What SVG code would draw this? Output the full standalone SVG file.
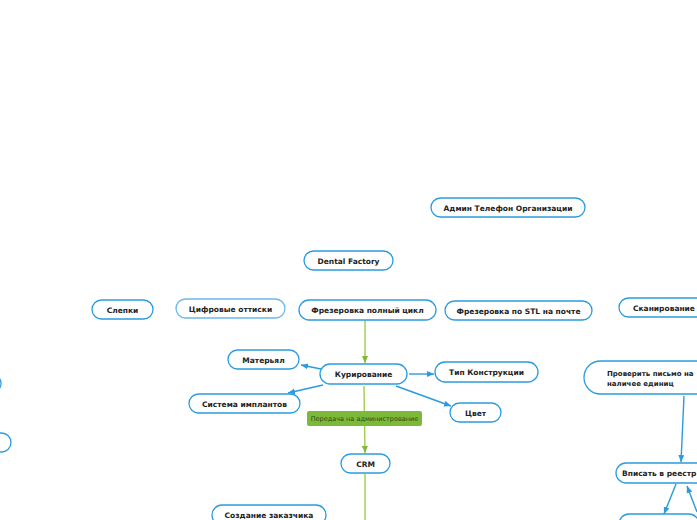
<svg xmlns="http://www.w3.org/2000/svg" width="697" height="520" viewBox="0 0 697 520">
<style>
.n{fill:#fff;stroke:#2a9be0;stroke-width:1.3}
.t{font-family:"DejaVu Sans",sans-serif;font-size:7.5px;font-weight:bold;fill:#222;text-anchor:middle}
.b{stroke:#2a9be0;stroke-width:1.4;fill:none;marker-end:url(#ab)}
.g{stroke:#9ad04e;stroke-width:1.4;fill:none;marker-end:url(#ag)}
</style>
<defs>
<marker id="ab" markerWidth="8" markerHeight="8" refX="7" refY="4" orient="auto" markerUnits="userSpaceOnUse"><path d="M0,1 L7,4 L0,7z" fill="#2a9be0"/></marker>
<marker id="ag" markerWidth="8" markerHeight="8" refX="7" refY="4" orient="auto" markerUnits="userSpaceOnUse"><path d="M0,1 L7,4 L0,7z" fill="#7cb83a"/></marker>
</defs>
<rect width="697" height="520" fill="#fff"/>
<g id="connectors">
<path class="g" d="M365,320 L365,363"/>
<path class="g" d="M364,386 L365,453"/>
<path class="g" d="M365,474 L365,520" style="marker-end:none"/>
<path class="b" d="M321,369 L301,365"/>
<path class="b" d="M323,385 L288,393"/>
<path class="b" d="M409,374 L434,374"/>
<path class="b" d="M396,386 L451,406"/>
<path class="b" d="M684,396 L681,462"/>
<path class="b" d="M676,484 L664,514"/>
<path class="b" d="M697,512 L687,486"/>
</g>
<g id="admin"><rect class="n" x="431" y="198" width="154" height="19" rx="9.5"/><text class="t" x="508" y="210.5">Админ Телефон Организации</text></g>
<g id="df"><rect class="n" x="304" y="251" width="89" height="19" rx="9.5"/><text class="t" x="348.5" y="263.5">Dental Factory</text></g>
<g id="slepki"><rect class="n" x="92" y="300" width="61" height="19" rx="9.5"/><text class="t" x="122.5" y="312.5">Слепки</text></g>
<g id="cifr"><rect class="n" x="176" y="299" width="109" height="19" rx="9.5" style="stroke:#6cb8ea"/><text class="t" x="230.5" y="311.5">Цифровые оттиски</text></g>
<g id="frez"><rect class="n" x="299" y="300" width="137" height="20" rx="10"/><text class="t" x="367.5" y="313">Фрезеровка полный цикл</text></g>
<g id="stl"><rect class="n" x="445" y="301" width="147" height="19" rx="9.5"/><text class="t" x="518.5" y="313.5">Фрезеровка по STL на почте</text></g>
<g id="scan"><rect class="n" x="619" y="298" width="100" height="19" rx="9.5"/><text class="t" x="664" y="310.5">Сканирование</text></g>
<g id="mat"><rect class="n" x="228" y="350" width="71" height="19" rx="9.5"/><text class="t" x="263.5" y="362.5">Матерьял</text></g>
<g id="kur"><rect class="n" x="320" y="364" width="87" height="20" rx="10"/><text class="t" x="363.5" y="377">Курирование</text></g>
<g id="tip"><rect class="n" x="435" y="362" width="103" height="20" rx="10"/><text class="t" x="486.5" y="375">Тип Конструкции</text></g>
<g id="sys"><rect class="n" x="189" y="394" width="111" height="19" rx="9.5"/><text class="t" x="244.5" y="406.5">Система имплантов</text></g>
<g id="cvet"><rect class="n" x="450" y="403" width="51" height="19" rx="9.5"/><text class="t" x="475.5" y="415.5">Цвет</text></g>
<g id="lbl"><rect x="307" y="411" width="115" height="15" rx="2" fill="#7cb83a"/><text x="364.5" y="421" style="font-family:'DejaVu Sans',sans-serif;font-size:6.5px;fill:#2d4a12;text-anchor:middle">Передача на администрование</text></g>
<g id="crm"><rect class="n" x="341" y="454" width="49" height="19" rx="9.5"/><text class="t" x="365.5" y="466.5">CRM</text></g>
<g id="sozd"><rect class="n" x="212" y="505" width="114" height="20" rx="10"/><text class="t" x="269" y="518">Создание заказчика</text></g>
<g id="left1"><rect class="n" x="-40" y="374" width="41" height="19" rx="9.5"/></g>
<g id="left2"><rect class="n" x="-40" y="433" width="51" height="19" rx="9.5"/></g>
<g id="prov"><rect class="n" x="584" y="361" width="140" height="33" rx="16.5"/><text class="t" x="607" y="375.5" style="text-anchor:start;font-size:7px">Проверить письмо на</text><text class="t" x="607" y="386" style="text-anchor:start;font-size:7px">наличее единиц</text></g>
<g id="vpis"><rect class="n" x="616" y="463" width="110" height="20" rx="10"/><text class="t" x="622" y="476" style="text-anchor:start">Вписать в реестр</text></g>
<g id="bot"><rect class="n" x="619" y="514" width="80" height="20" rx="10"/></g>
</svg>
